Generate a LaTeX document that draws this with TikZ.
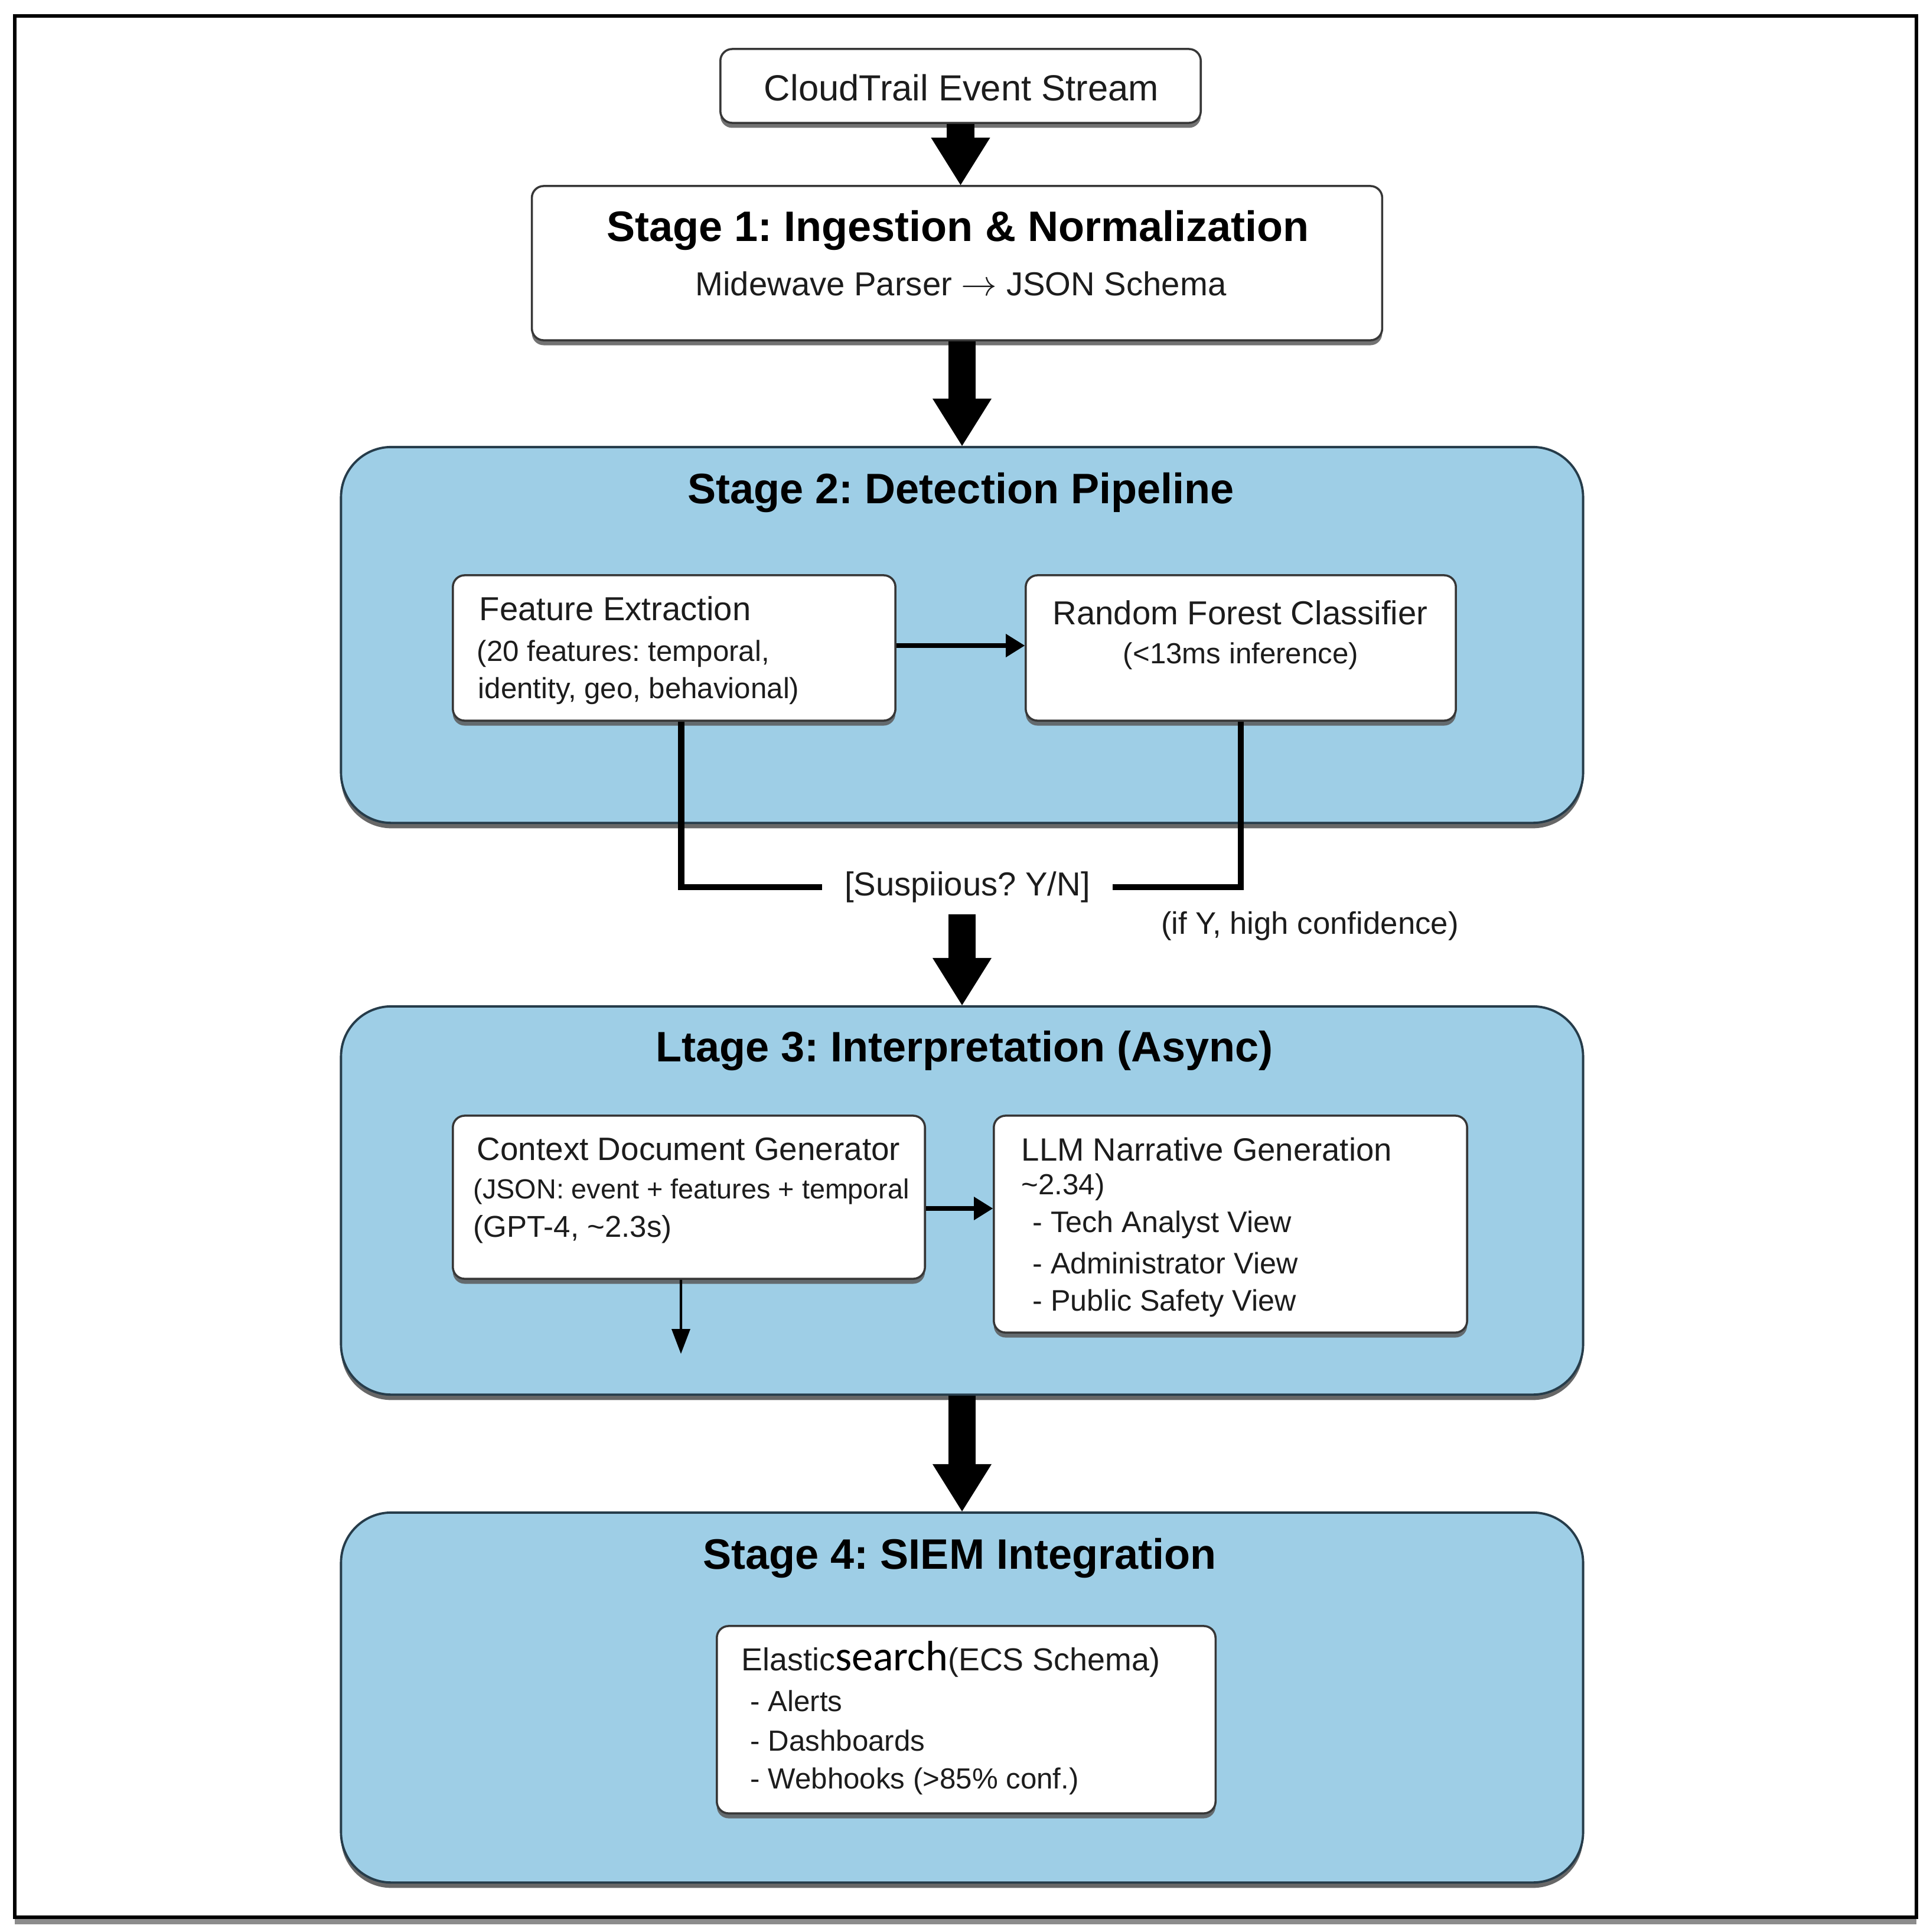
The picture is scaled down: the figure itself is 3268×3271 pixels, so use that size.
\documentclass[tikz,border=0pt]{standalone}
\usepackage{fontspec}
\setmainfont{Liberation Sans}
\newfontfamily\altfont{Carlito}
\usetikzlibrary{arrows.meta,shadows}
\frenchspacing

\definecolor{stagefill}{RGB}{158,206,230}
\definecolor{stageedge}{RGB}{38,60,74}
\definecolor{boxedge}{RGB}{55,55,55}
\definecolor{inktext}{RGB}{28,28,28}

\newcommand\stgtitle{\fontsize{20.5pt}{24pt}\selectfont\bfseries}
\newcommand\boxhead{\fontsize{16pt}{19pt}\selectfont}
\newcommand\boxdetail{\fontsize{14pt}{17pt}\selectfont}

\begin{document}
\begin{tikzpicture}[x=0.01cm,y=-0.01cm,
  stage/.style={draw=stageedge, line width=1.1pt, fill=stagefill,
    rounded corners=0.85cm,
    drop shadow={shadow xshift=0pt, shadow yshift=-2.6pt, fill=black!70, opacity=0.85}},
  card/.style={draw=boxedge, line width=1pt, fill=white, rounded corners=0.2cm,
    drop shadow={shadow xshift=0pt, shadow yshift=-2.4pt, fill=black!65, opacity=0.85}},
  txt/.style={inner sep=0pt, text=inktext},
  lft/.style={txt, anchor=west},
  bigarrow/.style={line width=0.46cm, -{Triangle[width=1.0cm,length=0.8cm,line width=0pt]}},
  midarrow/.style={line width=2.3pt, -{Triangle[width=0.4cm,length=0.32cm,line width=0pt]}},
  thinarrow/.style={line width=1.2pt, -{Triangle[width=0.32cm,length=0.42cm,line width=0pt]}},
  joinline/.style={line width=3pt}
]
\useasboundingbox (0,0) rectangle (3268,3271);

% page frame
\fill[black!45] (25,3246) rectangle (3245,3258);
\draw[line width=1.6pt] (25,27) rectangle (3245,3246);

% containers for stages 2-4
\node[stage, minimum width=21.02cm, minimum height=6.36cm] (s2) at (1629,1075) {};
\node[stage, minimum width=21.02cm, minimum height=6.57cm] (s3) at (1629,2032.5) {};
\node[stage, minimum width=21.02cm, minimum height=6.26cm] (s4) at (1629,2874) {};

% source and stage 1
\node[card, minimum width=8.13cm, minimum height=1.25cm] (src) at (1626.5,145.5) {};
\node[txt, font=\fontsize{17.5pt}{20pt}\selectfont] (srct) at (1628,148) {CloudTrail Event Stream};

\node[card, minimum width=14.39cm, minimum height=2.61cm] (s1) at (1620.5,445.5) {};
\node[txt, font=\stgtitle, text=black] (t1) at (1622,390) {Stage 1: Ingestion \& Normalization};
\node[txt, font=\boxhead] (t1s) at (1627,480) {Midewave Parser $\rightarrow$ JSON Schema};

% stage 2
\node[txt, font=\stgtitle, text=black] (t2) at (1627,834) {Stage 2: Detection Pipeline};
\node[card, minimum width=7.49cm, minimum height=2.46cm] (fe) at (1141.5,1097) {};
\node[lft, font=\boxhead] (fe1) at (811,1030) {Feature Extraction};
\node[lft, font=\boxdetail] (fe2) at (807,1107) {(20 features: temporal,};
\node[lft, font=\boxdetail] (fe3) at (809,1170) {identity, geo, behavional)};

\node[card, minimum width=7.28cm, minimum height=2.46cm] (rf) at (2101,1097) {};
\node[txt, font=\boxhead] (rf1) at (2100,1037) {Random Forest Classifier};
\node[txt, font=\boxdetail] (rf2) at (2101,1111) {(<13ms inference)};

\draw[midarrow] (fe.east |- 0,1093) -- (rf.west |- 0,1093);

% decision
\node[txt, font=\boxhead, inner xsep=0.37cm, inner ysep=0.13cm] (susp) at (1638,1502) {[Suspiious? Y/N]};
\node[txt, font=\fontsize{15pt}{18pt}\selectfont] (conf) at (2218,1568) {(if Y, high confidence)};
\draw[joinline] ([xshift=0.12cm]fe.south) |- (susp.west);
\draw[joinline] (rf.south) |- (susp.east);

% stage 3
\node[txt, font=\stgtitle, text=black] (t3) at (1633,1779) {Ltage 3: Interpretation (Async)};
\node[card, minimum width=7.99cm, minimum height=2.76cm] (cdg) at (1166.5,2027) {};
\node[lft, font=\fontsize{15.6pt}{19pt}\selectfont] (cdg1) at (807,1946) {Context Document Generator};
\node[lft, font=\fontsize{13.3pt}{16pt}\selectfont] (cdg2) at (801,2017) {(JSON: event + features + temporal};
\node[lft, font=\fontsize{14.5pt}{17pt}\selectfont] (cdg3) at (801,2081) {(GPT-4, \textasciitilde2.3s)};

\node[card, minimum width=8.01cm, minimum height=3.67cm] (llm) at (2083.5,2072.5) {};
\node[lft, font=\fontsize{15.5pt}{19pt}\selectfont] (llm1) at (1729,1946) {LLM Narrative Generation};
\node[lft, font=\boxdetail] (llm2) at (1729,2010) {\textasciitilde2.34)};
\node[lft, font=\fontsize{14.3pt}{17pt}\selectfont] (llm3) at (1748,2073) {- Tech Analyst View};
\node[lft, font=\fontsize{14.3pt}{17pt}\selectfont] (llm4) at (1748,2138) {- Administrator View};
\node[lft, font=\fontsize{14.3pt}{17pt}\selectfont] (llm5) at (1748,2206) {- Public Safety View};

\draw[midarrow] (cdg.east |- 0,2046) -- (llm.west |- 0,2046);
\coordinate (cdgend) at (1153,2292);
\draw[thinarrow] ([xshift=-0.135cm]cdg.south) -- (cdgend);

% stage 4
\node[txt, font=\stgtitle, text=black] (t4) at (1625,2638) {Stage 4: SIEM Integration};
\node[card, minimum width=8.44cm, minimum height=3.17cm] (es) at (1636,2911.5) {};
\node[lft, font=\fontsize{15.3pt}{18pt}\selectfont] (es1) at (1255,2809) {Elastic{\altfont\fontsize{20.5pt}{22pt}\selectfont\color{black}search}(ECS Schema)};
\node[lft, font=\boxdetail] (es2) at (1270,2880) {- Alerts};
\node[lft, font=\boxdetail] (es3) at (1270,2947) {- Dashboards};
\node[lft, font=\boxdetail] (es4) at (1270,3016) {- Webhooks (>85\% conf.)};

% main flow
\draw[bigarrow] (src.south) -- (s1.north -| src.south);
\draw[bigarrow] (s1.south -| s2.north) -- (s2.north);
\draw[bigarrow] ([yshift=-0.06cm]susp.south -| s3.north) -- (s3.north);
\draw[bigarrow] (s3.south) -- (s4.north);
\end{tikzpicture}
\end{document}
